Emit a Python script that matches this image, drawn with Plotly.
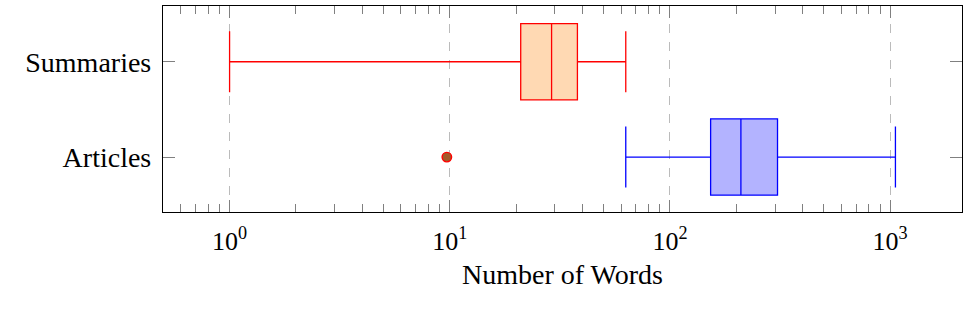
import plotly.graph_objects as go

# ---- data ----
categories = ["Articles", "Summaries"]
cat_pos = [1, 2]
lower_whisker = [63, 1]
q1 = [153, 21]
median = [210, 29]
q3 = [308, 38]
upper_whisker = [1057, 63]
outlier_cat = ["Articles"]
outlier_pos = [1]
outlier_vals = [9.7]

line_colors = ["#0000FF", "#FF0000"]
fill_colors = ["#B3B3FF", "#FFD9B3"]

major_vals = [1, 10, 100, 1000]
major_text = ["10<sup>0</sup>", "10<sup>1</sup>", "10<sup>2</sup>", "10<sup>3</sup>"]
minor_vals = [0.6, 0.7, 0.8, 0.9] + [m * 10 ** e for e in range(0, 3) for m in range(2, 10)]

FONT = "Liberation Serif"

fig = go.Figure()
for i, name in enumerate(categories):
    fig.add_trace(go.Box(
        name=name,
        y=[cat_pos[i]],
        orientation="h",
        q1=[q1[i]], median=[median[i]], q3=[q3[i]],
        lowerfence=[lower_whisker[i]], upperfence=[upper_whisker[i]],
        boxpoints=False,
        width=0.8,
        whiskerwidth=0.8,
        line=dict(color=line_colors[i], width=1.3),
        fillcolor=fill_colors[i],
        showlegend=False,
    ))

fig.add_trace(go.Scatter(
    x=outlier_vals, y=outlier_pos, mode="markers",
    marker=dict(size=9.5, color="#A35A2A", line=dict(color="#FF0000", width=1.4)),
    showlegend=False,
))

fig.update_layout(
    width=977, height=320,
    margin=dict(l=163, r=15, t=6, b=108),
    paper_bgcolor="white", plot_bgcolor="white",
    font=dict(family=FONT, size=26, color="black"),
)

fig.update_xaxes(
    type="log",
    range=[-0.3024, 3.3264],
    tickmode="array", tickvals=major_vals, ticktext=major_text,
    ticks="inside", ticklen=12, tickcolor="#808080", tickwidth=1,
    minor=dict(tickmode="array", tickvals=minor_vals, ticks="inside", ticklen=8,
               tickcolor="#808080", tickwidth=1, showgrid=False),
    showgrid=True, gridcolor="#BBBBBB", gridwidth=1, griddash="dash",
    showline=True, linecolor="black", linewidth=1.3, mirror="ticks",
    zeroline=False,
    tickfont=dict(family=FONT, size=26),
    ticklabelstandoff=6,
    title=dict(text="Number of Words", font=dict(family=FONT, size=28), standoff=9),
)

fig.update_yaxes(
    range=[0.424, 2.585],
    tickmode="array", tickvals=cat_pos, ticktext=categories,
    ticks="inside", ticklen=12, tickcolor="#808080", tickwidth=1,
    showgrid=False, zeroline=False,
    showline=True, linecolor="black", linewidth=1.3, mirror="ticks",
    tickfont=dict(family=FONT, size=28),
    ticklabelstandoff=5,
)

fig.write_html("out.html")
